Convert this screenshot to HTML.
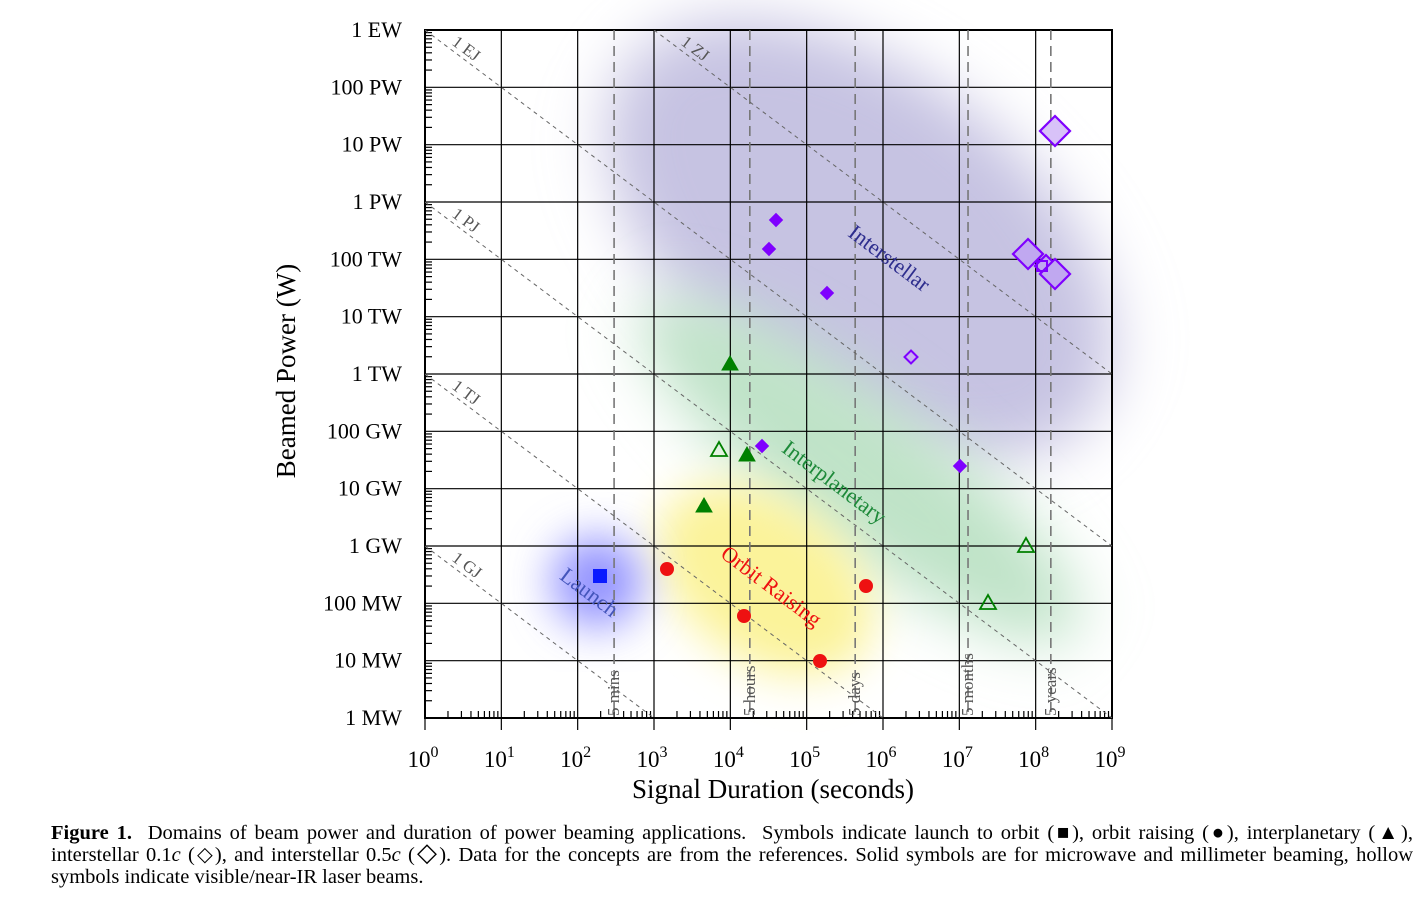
<!DOCTYPE html>
<html><head><meta charset="utf-8">
<style>
html,body{margin:0;padding:0;background:#fff;width:1426px;height:898px;overflow:hidden}
svg{position:absolute;left:0;top:0}
.cap{position:absolute;left:51px;width:1362px;font:20.5px "Liberation Serif",serif;line-height:22px;color:#000;text-align:justify;text-align-last:justify;white-space:nowrap}
.l3{text-align-last:left}
</style></head><body>
<svg id="s" width="1426" height="898" xmlns="http://www.w3.org/2000/svg" font-family="Liberation Serif, serif">
<defs>
<filter id="b1" x="-50%" y="-50%" width="200%" height="200%"><feGaussianBlur stdDeviation="30"/></filter>
<filter id="b2" x="-50%" y="-50%" width="200%" height="200%"><feGaussianBlur stdDeviation="22"/></filter>
<clipPath id="cp"><rect x="425" y="30" width="687" height="688"/></clipPath>
</defs>
<g id="blobs">
<g transform="translate(860,240) rotate(37)" filter="url(#b1)"><ellipse cx="0" cy="0" rx="290" ry="170" fill="#c6c3e2"/></g>
<g transform="translate(860,470) rotate(37)" filter="url(#b1)"><ellipse cx="0" cy="0" rx="270" ry="75" fill="#bfe3c8"/></g>
<g transform="translate(765,580) rotate(37)" filter="url(#b2)"><ellipse cx="0" cy="0" rx="120" ry="80" fill="#fbf39a"/></g>
<g filter="url(#b2)"><ellipse cx="597" cy="582" rx="45" ry="45" fill="#9090ff"/></g>
</g>
<g id="grid"></g>
<g id="mk"></g>
<g id="lab"></g>
</svg>
<div class="cap" style="top:822px"><b>Figure 1.</b>&nbsp; Domains of beam power and duration of power beaming applications.&nbsp; Symbols indicate launch to orbit (&#9632;), orbit raising (&#9679;), interplanetary (&#9650;),</div>
<div class="cap" style="top:844px">interstellar 0.1<i>c</i> (&#9671;), and interstellar 0.5<i>c</i> (<span style="font-size:26px;line-height:18px">&#9671;</span>). Data for the concepts are from the references. Solid symbols are for microwave and millimeter beaming, hollow</div>
<div class="cap l3" style="top:866px">symbols indicate visible/near-IR laser beams.</div>
<script>
const NS="http://www.w3.org/2000/svg";
function el(p,t,a,txt){const e=document.createElementNS(NS,t);for(const k in a)e.setAttribute(k,a[k]);if(txt!==undefined)e.textContent=txt;p.appendChild(e);return e;}
const L=425,R=1112,T=30,B=718,DX=(R-L)/9,DY=(B-T)/12;
const X=l=>L+l*DX, Y=l=>B-(l-6)*DY;
const g=document.getElementById('grid');
for(let i=0;i<=9;i++)el(g,'line',{x1:X(i),x2:X(i),y1:T,y2:B,stroke:'#000','stroke-width':1.2});
for(let i=6;i<=18;i++)el(g,'line',{x1:L,x2:R,y1:Y(i),y2:Y(i),stroke:'#000','stroke-width':1.2});
for(let i=0;i<9;i++)for(let k=2;k<10;k++){const x=X(i+Math.log10(k));el(g,'line',{x1:x,x2:x,y1:B,y2:B-7,stroke:'#000','stroke-width':1.2});}
for(let i=6;i<18;i++)for(let k=2;k<10;k++){const y=Y(i+Math.log10(k));el(g,'line',{x1:L,x2:L+7,y1:y,y2:y,stroke:'#000','stroke-width':1.2});}
for(let i=0;i<=9;i++)el(g,'line',{x1:X(i),x2:X(i),y1:B,y2:B+12,stroke:'#000','stroke-width':1.2});
el(g,'rect',{x:L,y:T,width:R-L,height:B-T,fill:'none',stroke:'#000','stroke-width':2});
const tl=[[300,'mins'],[18000,'hours'],[432000,'days'],[1.3e7,'months'],[1.58e8,'years']];
tl.forEach(([t,n])=>{const x=X(Math.log10(t));el(g,'line',{x1:x,x2:x,y1:T,y2:B,stroke:'#777','stroke-width':1.6,'stroke-dasharray':'10,6'});
 el(g,'text',{x:0,y:0,transform:`translate(${x+5},${B-2}) rotate(-90)`,'font-size':17,fill:'#555'},'5 '+n);});
const en=[[18,'1 EJ'],[21,'1 ZJ'],[15,'1 PJ'],[12,'1 TJ'],[9,'1 GJ']];
const cg=el(g,'g',{'clip-path':'url(#cp)'});
const ang=Math.atan(DY/DX)*180/Math.PI;
en.forEach(([e,n])=>{const t0=Math.max(0,e-18);el(cg,'line',{x1:X(t0),y1:Y(e-t0),x2:X(e-6),y2:Y(6),stroke:'#666','stroke-width':1,'stroke-dasharray':'4,4'});
 el(g,'text',{x:0,y:0,transform:`translate(${X(t0)+26},${Y(e-t0)+14}) rotate(${ang})`,'font-size':17,fill:'#555'},n);});
const yl=['1 MW','10 MW','100 MW','1 GW','10 GW','100 GW','1 TW','10 TW','100 TW','1 PW','10 PW','100 PW','1 EW'];
yl.forEach((s,i)=>el(g,'text',{x:402,y:Y(6+i)+7,'font-size':22,'text-anchor':'end'},s));
for(let i=0;i<=9;i++){const t=el(g,'text',{x:X(i)-2,y:767,'font-size':23,'text-anchor':'middle'});t.innerHTML=`10<tspan dy="-10" font-size="16">${i}</tspan>`;}
el(g,'text',{x:773,y:798,'font-size':27,'text-anchor':'middle'},'Signal Duration (seconds)');
el(g,'text',{x:0,y:0,transform:'translate(295,371) rotate(-90)','font-size':27,'text-anchor':'middle'},'Beamed Power (W)');
const lab=document.getElementById('lab');
[[885,264,'Interstellar','#2e2e8e'],[830,488,'Interplanetary','#1e8a3a'],[767,592,'Orbit Raising','#ee1111'],[585,598,'Launch','#4455bb']].forEach(([x,y,s,c])=>el(lab,'text',{x:0,y:0,transform:`translate(${x},${y}) rotate(${ang})`,'font-size':22,fill:c,'text-anchor':'middle'},s));
const m=document.getElementById('mk');
el(m,'rect',{x:593,y:569,width:14,height:14,fill:'#0a1aff'});
[[667,569],[744,616],[820,661],[866,586]].forEach(([x,y])=>el(m,'circle',{cx:x,cy:y,r:7,fill:'#ee1111'}));
const tri=(x,y,f)=>el(m,'polygon',{points:`${x},${y-8} ${x+8},${y+6} ${x-8},${y+6}`,fill:f?'#008000':'none',stroke:'#008000','stroke-width':f?1:1.8});
[[730,364],[747,455],[704,506]].forEach(p=>tri(p[0],p[1],1));
[[719,450],[1026,546],[988,603]].forEach(p=>tri(p[0],p[1],0));
const dia=(x,y,r,f,st)=>el(m,'polygon',{points:`${x},${y-r} ${x+r},${y} ${x},${y+r} ${x-r},${y}`,fill:f,stroke:'#7f00ff','stroke-width':st});
[[776,220],[769,249],[827,293],[762,446],[960,466]].forEach(p=>dia(p[0],p[1],6.5,'#7f00ff',1));
dia(911,357,6.5,'#c8b0f0',2);
dia(1055,131,15,'#d8c2f8',2.2);
dia(1028,254,15,'#c0a8f0',2.2);
dia(1046,266,11,'#c0a8f0',2.2);
dia(1055,274,15,'#c0a8f0',2.2);
el(m,'rect',{x:1037,y:261,width:10,height:10,fill:'none',stroke:'#7f00ff','stroke-width':2});
</script>
</body></html>
